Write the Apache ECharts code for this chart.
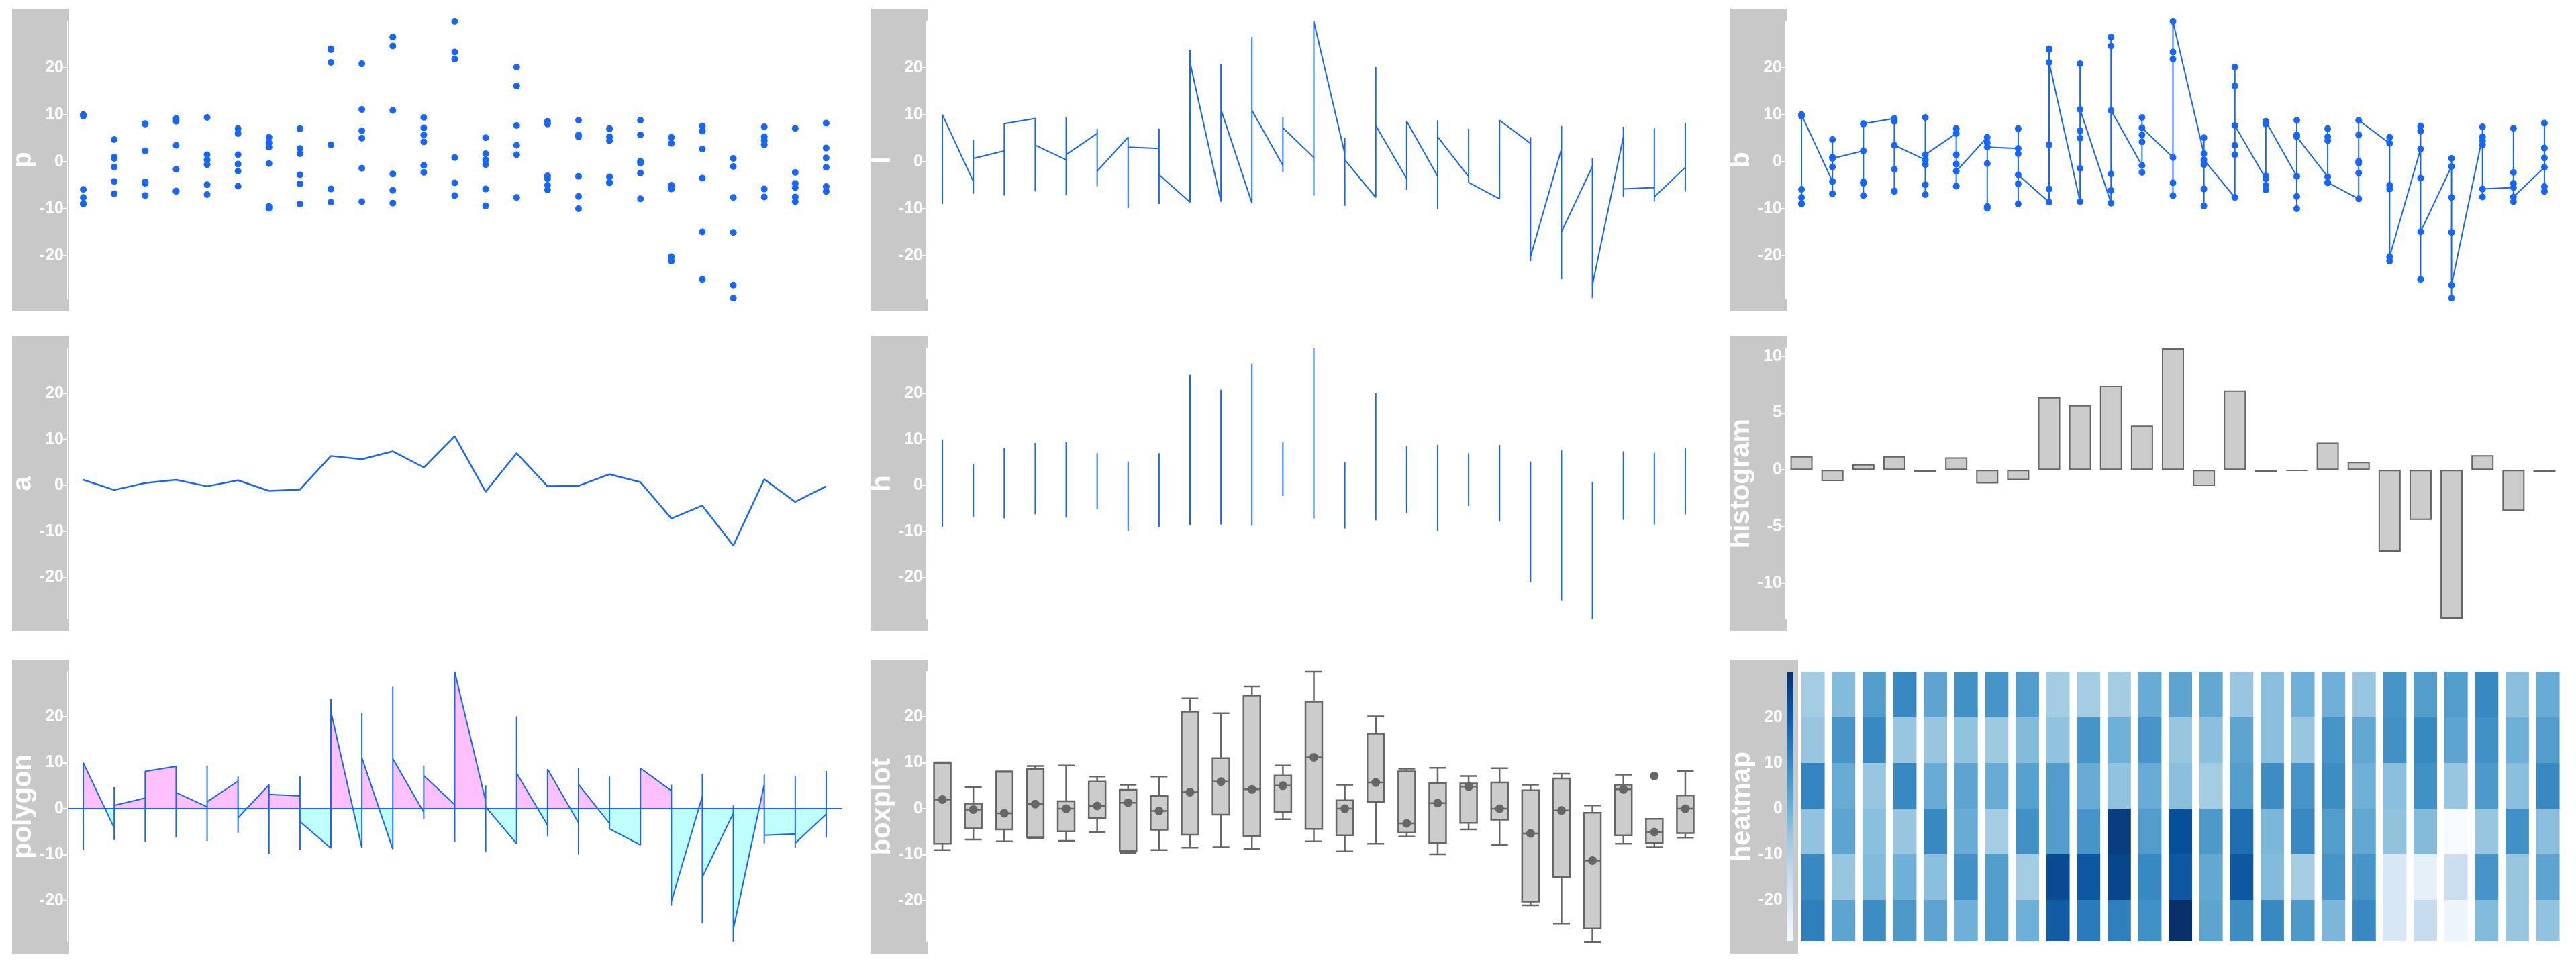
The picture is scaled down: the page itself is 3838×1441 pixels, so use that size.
<!DOCTYPE html>
<html>
<head>
<meta charset="utf-8">
<script src="https://cdn.jsdelivr.net/npm/echarts@6/dist/echarts.min.js"></script>
</head>
<body style="margin:0;background:#fff">
<div id="main" style="width:3838px;height:1441px;"></div>
<script>
// 25 groups, 6 values each (order = drawing order of the path)
var groups = ['1','2','3','4','5','6','7','8','9','10','11','12','13','14','15','16','17','18','19','20','21','22','23','24','25'];
var pts = [
  [-9.0,-8.9,-7.6,-5.9,9.7,10.0],
  [-4.2,-6.8,4.7,-1.1,1.0,0.7],
  [2.3,-4.3,-4.6,-7.2,8.1,8.0],
  [9.2,8.6,-1.6,-6.3,-6.2,3.5],
  [0.4,9.4,-0.6,-4.9,-7.0,1.5],
  [6.0,7.0,1.5,-0.5,-5.2,-2.0],
  [5.2,4.0,-0.4,-9.5,-9.9,3.1],
  [2.8,7.0,1.7,-4.7,-9.0,-2.8],
  [-8.6,-5.8,3.6,23.8,24.0,21.1],
  [-8.5,20.8,6.6,5.0,-1.4,11.1],
  [-8.8,26.5,24.6,-2.6,-6.1,10.9],
  [-0.8,-2.3,9.4,5.7,4.2,7.2],
  [0.9,-4.5,-7.2,21.8,23.3,29.8],
  [1.7,5.1,-5.8,-9.4,-0.6,0.4],
  [-7.6,20.1,16.1,1.5,3.5,7.7],
  [-3.6,-6.0,-5.0,-3.0,8.0,8.6],
  [-3.1,-7.4,-10.0,8.8,5.7,5.3],
  [-3.2,7.0,5.3,4.5,-4.4,-4.5],
  [-7.9,-2.4,0.1,-0.3,5.7,8.8],
  [3.9,5.2,-5.0,-5.8,-21.1,-20.2],
  [2.7,7.6,6.5,-3.5,-25.0,-14.9],
  [-1.0,0.7,-7.6,-15.0,-29.0,-26.2],
  [5.3,7.4,4.5,3.6,-7.5,-5.8],
  [-5.5,7.1,-2.3,-4.6,-8.5,-7.5],
  [-1.2,8.2,2.9,0.8,-6.3,-5.3]
];
var means = [1.2,-1.0,0.5,1.2,-0.2,1.1,-1.2,-0.9,6.4,5.7,7.4,3.9,10.7,-1.4,7.0,-0.2,-0.1,2.4,0.7,-7.2,-4.4,-13.1,1.3,-3.6,-0.2];
// [min, q1, median, q3, max]
var boxStats = [
  [-9.0,-7.6,2.0,9.9,10.1],[-6.7,-4.3,-0.2,1.1,4.7],[-7.1,-4.5,-1.0,8.0,8.1],[-6.4,-6.2,1.0,8.6,9.3],
  [-7.0,-4.9,0.0,1.6,9.4],[-5.1,-2.0,0.6,5.9,7.0],[-9.6,-9.2,1.3,4.1,5.2],[-9.0,-4.6,-0.5,2.8,7.0],
  [-8.5,-5.7,3.6,21.1,24.0],[-8.4,-1.3,5.9,11.0,20.8],[-8.7,-6.0,4.2,24.6,26.6],[-2.3,-0.7,5.0,7.2,9.4],
  [-7.1,-4.4,11.2,23.3,29.8],[-9.3,-5.8,0.0,1.8,5.2],[-7.6,1.5,5.7,16.3,20.1],[-6.1,-5.2,-3.2,8.1,8.7],
  [-9.9,-7.4,1.2,5.6,8.9],[-4.5,-3.1,4.8,5.5,7.1],[-7.9,-2.4,0.0,5.7,8.8],[-21.0,-20.2,-5.4,4.0,5.2],
  [-25.0,-14.9,-0.4,6.6,7.6],[-29.0,-26.1,-11.3,-0.9,0.7],[-7.6,-5.8,4.2,5.2,7.4],[-8.4,-7.4,-5.1,-2.2,-2.2],
  [-6.3,-5.3,0.0,2.9,8.2]
];
var boxOutliers = [[23, 7.1]];
// heatmap rows, top band first
var heatBands = [30, 20, 10, 0, -10, -20, -29.1];
var heat = [
  [-8,-3,5,10,3,8,7,5,-8,-8,-8,1,3,2,-6,-4,0,0,-6,7,5,5,10,-4,1],
  [-6,7,10,-6,-6,-5,-7,-3,-5,7,0,7,-6,-4,3,-4,-6,7,2,8,10,3,8,0,5],
  [11,1,-6,10,1,3,1,4,5,1,-5,1,-4,-8,5,9,7,9,0,-4,8,-6,6,-4,10],
  [-5,3,-4,-6,10,1,-8,8,5,7,27,5,23,6,16,-2,10,5,2,-5,-3,-29,-6,8,-4],
  [10,-6,-3,0,-4,8,5,-8,24,21,25,10,21,2,21,-3,-8,7,7,-20,-24,-16,7,-6,3],
  [12,3,9,6,3,0,5,0,20,13,12,8,30,3,9,10,6,-2,10,-20,-15,-26,-3,-6,-5]
];
var yTicks = [-20, -10, 0, 10, 20];
var histTicks = [-10, -5, 0, 5, 10];

var blue = '#1466ff';
var colX = [0, 1280, 2560];
var rowTop = [32, 519, 1001];
var rowH = [413, 403, 402];
var bandTop = [13, 501, 983];
var bandH = [450, 439, 439];
var labelFont = 'Liberation Sans Narrow, Liberation Sans, sans-serif';

var chart = echarts.init(document.getElementById('main'));

var grids = [], xAxes = [], yAxes = [], series = [], graphics = [];
var panels = [
  {name:'p', r:0, c:0, min:-29.1, max:29.8},
  {name:'l', r:0, c:1, min:-29.1, max:29.8},
  {name:'b', r:0, c:2, min:-29.1, max:29.8},
  {name:'a', r:1, c:0, min:-29.0, max:29.8},
  {name:'h', r:1, c:1, min:-29.0, max:29.8},
  {name:'histogram', r:1, c:2, min:-13.1, max:10.7, ticks:histTicks},
  {name:'polygon', r:2, c:0, min:-28.9, max:29.8},
  {name:'boxplot', r:2, c:1, min:-28.9, max:29.8},
  {name:'heatmap', r:2, c:2, min:-29.1, max:30, heat:true}
];

panels.forEach(function (p, i) {
  var left = colX[p.c] + (p.heat ? 102 : 101);
  grids.push({left: left, top: rowTop[p.r], width: p.heat ? 1157 : 1153, height: rowH[p.r]});
  if (p.heat) {
    xAxes.push({type:'value', gridIndex:i, min:-0.86, max:24.5, show:false});
  } else {
    xAxes.push({type:'category', gridIndex:i, data:groups, boundaryGap:true, show:false});
  }
  var ticks = p.ticks || yTicks;
  yAxes.push({
    type:'value', gridIndex:i, min:p.min, max:p.max,
    name:p.name, nameLocation:'middle', nameRotate:90, nameGap:44,
    nameTextStyle:{color:'#fff', fontSize:40, fontWeight:'bold', fontFamily:'Liberation Sans'},
    axisLine:{show:!p.heat, lineStyle:{color:'#fff', width:2}},
    axisTick:{show:true, length:9, customValues:ticks, lineStyle:{color:'#fff', width:2}},
    axisLabel:{customValues:ticks, color:'#fff', fontSize:25, fontWeight:'bold', fontFamily:labelFont, margin:6},
    splitLine:{show:false}
  });
  graphics.push({
    type:'rect', z:-10,
    shape:{x:colX[p.c] + 18, y:bandTop[p.r], width:p.heat ? 101 : 85, height:bandH[p.r]},
    style:{fill:'#c8c8c8'}
  });
});

var path = [];
pts.forEach(function (g, gi) { g.forEach(function (v) { path.push([gi, v]); }); });

// p: points
series.push({type:'scatter', xAxisIndex:0, yAxisIndex:0, data:path, symbolSize:10, itemStyle:{color:blue, opacity:1}});
// l: lines
series.push({type:'line', xAxisIndex:1, yAxisIndex:1, data:path, showSymbol:false, lineStyle:{color:blue, width:2}});
// b: both
series.push({type:'line', xAxisIndex:2, yAxisIndex:2, data:path, symbol:'circle', symbolSize:10, showAllSymbol:true,
  itemStyle:{color:blue}, lineStyle:{color:blue, width:2}});
// a: means
series.push({type:'line', xAxisIndex:3, yAxisIndex:3, data:means, showSymbol:false, lineStyle:{color:blue, width:2.5}});
// h: range lines
series.push({type:'custom', xAxisIndex:4, yAxisIndex:4,
  data:pts.map(function (g, gi) { return [gi, Math.min.apply(null, g), Math.max.apply(null, g)]; }),
  renderItem:function (params, api) {
    var a = api.coord([api.value(0), api.value(1)]);
    var b = api.coord([api.value(0), api.value(2)]);
    return {type:'line', shape:{x1:a[0], y1:a[1], x2:b[0], y2:b[1]}, style:{stroke:blue, lineWidth:2}};
  }});
// histogram
series.push({type:'bar', xAxisIndex:5, yAxisIndex:5, data:means, barWidth:33,
  itemStyle:{color:'#cccccc', borderColor:'#666', borderWidth:2}});
// polygon: filled area + outline (fill colour set once the zero line is known)
series.push({id:'polyArea', type:'line', xAxisIndex:6, yAxisIndex:6, data:path, showSymbol:false,
  lineStyle:{width:0}, areaStyle:{opacity:1, color:'#ffc0ff'}, z:1});
series.push({type:'line', xAxisIndex:6, yAxisIndex:6, data:path, showSymbol:false, z:3,
  lineStyle:{color:blue, width:2},
  markLine:{silent:true, symbol:'none', label:{show:false}, lineStyle:{color:blue, width:2, type:'solid'},
    data:[{yAxis:0}]}});
// boxplot
series.push({type:'boxplot', xAxisIndex:7, yAxisIndex:7, data:boxStats, boxWidth:[25, 25],
  itemStyle:{color:'#cccccc', borderColor:'#666', borderWidth:2.5}});
series.push({type:'scatter', xAxisIndex:7, yAxisIndex:7, symbolSize:13, itemStyle:{color:'#666', opacity:1}, z:5,
  data:boxStats.map(function (s, i) { return [i, s[2]]; }).concat(boxOutliers)});
// heatmap
var heatData = [];
heat.forEach(function (row, r) { row.forEach(function (v, c) { heatData.push([c, r, v]); }); });
series.push({type:'custom', xAxisIndex:8, yAxisIndex:8, data:heatData,
  encode:{x:0},
  renderItem:function (params, api) {
    var c = api.value(0), r = api.value(1);
    var tl = api.coord([c - 0.38, heatBands[r]]);
    var br = api.coord([c + 0.38, heatBands[r + 1]]);
    return {type:'rect', shape:{x:tl[0], y:tl[1], width:br[0] - tl[0], height:br[1] - tl[1]},
      style:{fill:api.visual('color')}};
  }});

var blues = ['#f7fbff','#deebf7','#c6dbef','#9ecae1','#6baed6','#4292c6','#2171b5','#08519c','#08306b'];

chart.setOption({
  animation:false,
  grid:grids, xAxis:xAxes, yAxis:yAxes, series:series,
  graphic:graphics,
  visualMap:[
    {type:'continuous', seriesIndex:10, dimension:2, min:-29.1, max:30, inRange:{color:blues},
      left:2662, top:1001, itemWidth:10, itemHeight:402, padding:0, text:null, calculable:false, showLabel:false}
  ]
});

// split polygon fill at y = 0: pink above, cyan below
var y0 = chart.convertToPixel({gridIndex:6}, [0, 0])[1];
var off = y0 / 1441;
chart.setOption({series:[{id:'polyArea', areaStyle:{color:{
  type:'linear', x:0, y:0, x2:0, y2:1441, global:true,
  colorStops:[{offset:0, color:'#ffc0ff'}, {offset:off, color:'#ffc0ff'},
              {offset:off, color:'#c0ffff'}, {offset:1, color:'#c0ffff'}]}}}]});
</script>
</body>
</html>
